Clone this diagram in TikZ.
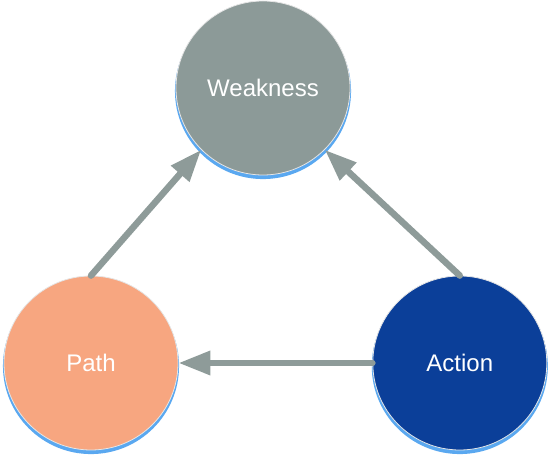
\documentclass[tikz,border=0pt]{standalone}
\usepackage{fontspec}
\setsansfont{Liberation Sans}
\usepackage{tikz}
\usetikzlibrary{shapes,arrows.meta,shadows,positioning}
\definecolor{weakgray}{HTML}{8C9A98}
\definecolor{pathorange}{HTML}{F7A680}
\definecolor{actionblue}{HTML}{0B3F99}
\definecolor{arrowgray}{HTML}{8E9B99}
\definecolor{rimblue}{HTML}{5AA8F0}
\tikzstyle{bubble} = [circle, draw=white!80!gray, line width=0.8pt,
    minimum size=174pt, inner sep=0pt, text=white,
    font=\sffamily\fontsize{24}{28}\selectfont,
    drop shadow={shadow xshift=0pt, shadow yshift=-3pt, shadow scale=1.012,
        fill=rimblue, opacity=1}]
\tikzstyle{line} = [draw=arrowgray, line width=6.5pt, line cap=round,
    -{Triangle[length=32pt,width=23pt]}]
\begin{document}
\begin{tikzpicture}[x=1pt, y=1pt]
    \useasboundingbox (0,0) rectangle (550,458);
    % Place nodes
    \node [bubble, fill=weakgray] (weakness) at (263,370) {Weakness};
    \node [bubble, fill=pathorange] (path) at (91,95) {Path};
    \node [bubble, fill=actionblue, right=194pt of path] (action) {Action};
    % Draw edges
    \path [line] (path.north) -- (weakness.-135);
    \path [line] (action.north) -- (weakness.-45);
    \path [line] (action.west) -- (path.east);
\end{tikzpicture}
\end{document}
